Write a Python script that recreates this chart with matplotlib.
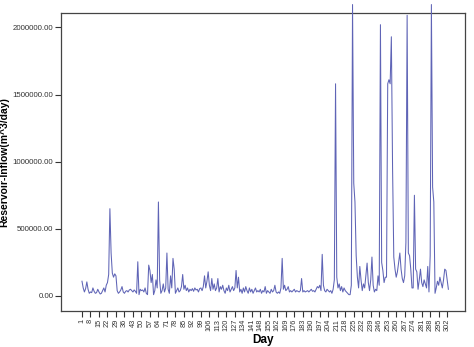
import matplotlib
matplotlib.use("Agg")
import matplotlib.pyplot as plt
import numpy as np

# Daily reservoir inflow (m^3/day), in thousands
inflow_k = [
    110, 60, 30, 55, 105, 50, 20, 30, 25, 60,
    35, 20, 25, 50, 30, 15, 20, 40, 60, 30,
    80, 100, 160, 650, 320, 170, 140, 165, 150, 40,
    20, 30, 45, 70, 30, 20, 35, 40, 30, 45,
    50, 40, 30, 45, 35, 20, 255, 10, 50, 40,
    45, 30, 60, 20, 10, 230, 190, 100, 160, 10,
    40, 120, 60, 700, 120, 20, 40, 90, 30, 60,
    320, 50, 20, 150, 60, 280, 200, 20, 40, 60,
    30, 40, 70, 160, 50, 80, 40, 60, 30, 50,
    40, 55, 35, 60, 45, 50, 30, 55, 60, 40,
    70, 150, 60, 110, 180, 80, 40, 130, 50, 90,
    40, 60, 130, 30, 70, 50, 80, 40, 20, 60,
    40, 80, 30, 50, 70, 40, 60, 190, 60, 140,
    30, 50, 20, 60, 30, 70, 40, 20, 60, 30,
    50, 20, 40, 60, 30, 40, 30, 50, 20, 40,
    30, 70, 20, 40, 30, 20, 50, 30, 40, 80,
    30, 20, 30, 20, 60, 280, 50, 80, 40, 50,
    70, 30, 40, 30, 40, 50, 30, 40, 35, 30,
    40, 130, 30, 40, 30, 35, 40, 30, 40, 50,
    35, 40, 30, 50, 70, 60, 80, 40, 310, 80,
    40, 30, 50, 40, 30, 40, 20, 50, 120, 1580,
    140, 60, 90, 40, 70, 30, 60, 40, 30, 20,
    10, 10, 80, 2170, 840, 700, 300, 140, 60, 220,
    120, 40, 90, 60, 150, 245, 100, 40, 120, 290,
    80, 30, 50, 40, 150, 80, 2020, 250, 190, 100,
    140, 140, 1580, 1610, 1580, 1930, 950, 290, 200, 140,
    180, 250, 320, 200, 130, 100, 150, 400, 2090, 320,
    300, 200, 60, 60, 750, 200, 180, 50, 120, 200,
    100, 70, 120, 90, 60, 220, 30, 300, 2170, 810,
    700, 20, 60, 110, 80, 140, 100, 60, 120, 200,
    190, 120, 50,
]
days = list(range(1, len(inflow_k) + 1))
tick_days = list(range(1, 303, 7))
y_ticks = [0, 500000, 1000000, 1500000, 2000000]

inflow = np.array(inflow_k) * 1000.0

plt.rcParams['font.family'] = ['Liberation Sans', 'DejaVu Sans']

fig = plt.figure(figsize=(4.74, 3.47), dpi=100)
ax = fig.add_axes([61/474, 1 - 311/347, (465 - 61)/474, (311 - 13)/347])

ax.plot(days, inflow, color='#5f64b6', lw=0.75, clip_on=False, zorder=3)

ax.set_xlim(-16.3, 316.7)
ax.set_ylim(-111700, 2107000)

ax.set_xticks(tick_days)
ax.set_xticklabels([str(d) for d in tick_days], rotation=90, fontsize=5.3, color='#333333')
ax.set_yticks(y_ticks)
ax.set_yticklabels([f"{v:.2f}" for v in y_ticks], fontsize=5.7, color='#333333')

ax.tick_params(axis='both', direction='out', length=4, width=0.8, color='#333333', pad=1.5)
for s in ax.spines.values():
    s.set_color('#444444')
    s.set_linewidth(0.9)

ax.set_xlabel('Day', fontsize=8.5, fontweight='bold', labelpad=2)
ax.set_ylabel('Reservoir-Inflow(m^3/day)', fontsize=7.5, fontweight='bold')
ax.yaxis.set_label_coords(-0.128, 0.5)

fig.savefig('out.png', dpi=100)
